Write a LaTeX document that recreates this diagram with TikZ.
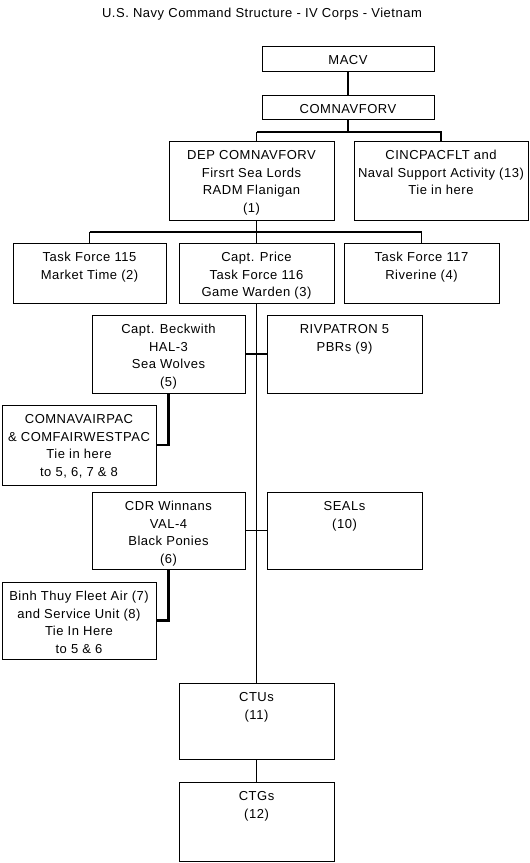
\documentclass[tikz,border=0pt]{standalone}
\usepackage{fontspec}
\setmainfont{Liberation Sans}[LetterSpace=4]
\usetikzlibrary{calc}
\newcommand\orgtext[3]{\parbox[c][#2pt][t]{#1pt}{\centering\rule{0pt}{18.5pt}#3}}

\begin{document}
\begin{tikzpicture}[x=1pt, y=-1pt,
		orgbox/.style={draw, line width=0.9pt, inner sep=0pt, outer sep=0pt, font=\fontsize{13}{17.5}\selectfont},
		heavy/.style={line width=2.6pt},
		light/.style={line width=0.9pt}]
			%%%%% START %%%%%
			\useasboundingbox (0,0) rectangle (530,863);
			
			\node[anchor=base, font=\fontsize{13}{15}\selectfont] (title) at (262,17) {U.S. Navy Command Structure - IV Corps - Vietnam};
			
			\node[orgbox] (macv) at (348,58.5) {\orgtext{172}{25}{MACV}};
			\node[orgbox] (comnavforv) at (348,107) {\orgtext{172}{24}{COMNAVFORV}};
			
			\node[orgbox] (dep) at (251.5,180.5) {\orgtext{165}{79}{DEP COMNAVFORV\\Firsrt Sea Lords\\RADM Flanigan\\(1)}};
			\node[orgbox] (cinc) at (441,180.5) {\orgtext{174}{79}{CINCPACFLT and\\Naval Support Activity (13)\\Tie in here}};
			
			\node[orgbox] (tf115) at (89.5,273) {\orgtext{153}{60}{Task Force 115\\Market Time (2)}};
			\node[orgbox] (price) at (256.5,273) {\orgtext{155}{60}{Capt. Price\\Task Force 116\\Game Warden (3)}};
			\node[orgbox] (tf117) at (421.5,273) {\orgtext{155}{60}{Task Force 117\\Riverine (4)}};
			
			\node[orgbox] (beck) at (168.5,354) {\orgtext{153}{78}{Capt. Beckwith\\HAL-3\\Sea Wolves\\(5)}};
			\node[orgbox] (rivp) at (344.5,354) {\orgtext{155}{78}{RIVPATRON 5\\PBRs (9)}};
			\node[orgbox] (cnap) at (79,445) {\orgtext{154}{80}{COMNAVAIRPAC\\\& COMFAIRWESTPAC\\Tie in here\\to 5, 6, 7 \& 8}};
			
			\node[orgbox] (cdr) at (168.5,530.5) {\orgtext{153}{77}{CDR Winnans\\VAL-4\\Black Ponies\\(6)}};
			\node[orgbox] (seals) at (344.5,530.5) {\orgtext{155}{77}{SEALs\\(10)}};
			\node[orgbox] (binh) at (79,620.5) {\orgtext{154}{77}{Binh Thuy Fleet Air (7)\\and Service Unit (8)\\Tie In Here\\to 5 \& 6}};
			
			\node[orgbox] (ctus) at (256.5,721) {\orgtext{155}{76}{CTUs\\(11)}};
			\node[orgbox] (ctgs) at (256.5,821.5) {\orgtext{155}{79}{CTGs\\(12)}};
			
			\coordinate (bus1) at (348,132);
			\coordinate (bus2) at (256.5,232);
			
			\draw[heavy] (macv) -- (comnavforv);
			\draw[heavy] (comnavforv) -- (bus1);
			\draw[heavy] (bus1 -| price) -- (bus1 -| cinc) -- (cinc);
			\draw[light] (bus1 -| price) -- (dep.north -| price);
			
			\draw[light] (dep.south -| price) -- (price);
			\draw[heavy] (bus2 -| tf115) -- (bus2 -| tf117);
			\draw[light] (bus2 -| tf115) -- (tf115);
			\draw[light] (bus2 -| tf117) -- (tf117);
			
			\draw[light] (price) -- (ctus);
			\draw[heavy] (beck) -- (rivp);
			\draw[heavy] (beck.south) |- (cnap.east);
			\draw[light] (cdr) -- (seals);
			\draw[heavy] (cdr.south) |- (binh.east);
			\draw[light] (ctus) -- (ctgs);
			
			%%%%% END %%%%%
		\end{tikzpicture}
\end{document}
